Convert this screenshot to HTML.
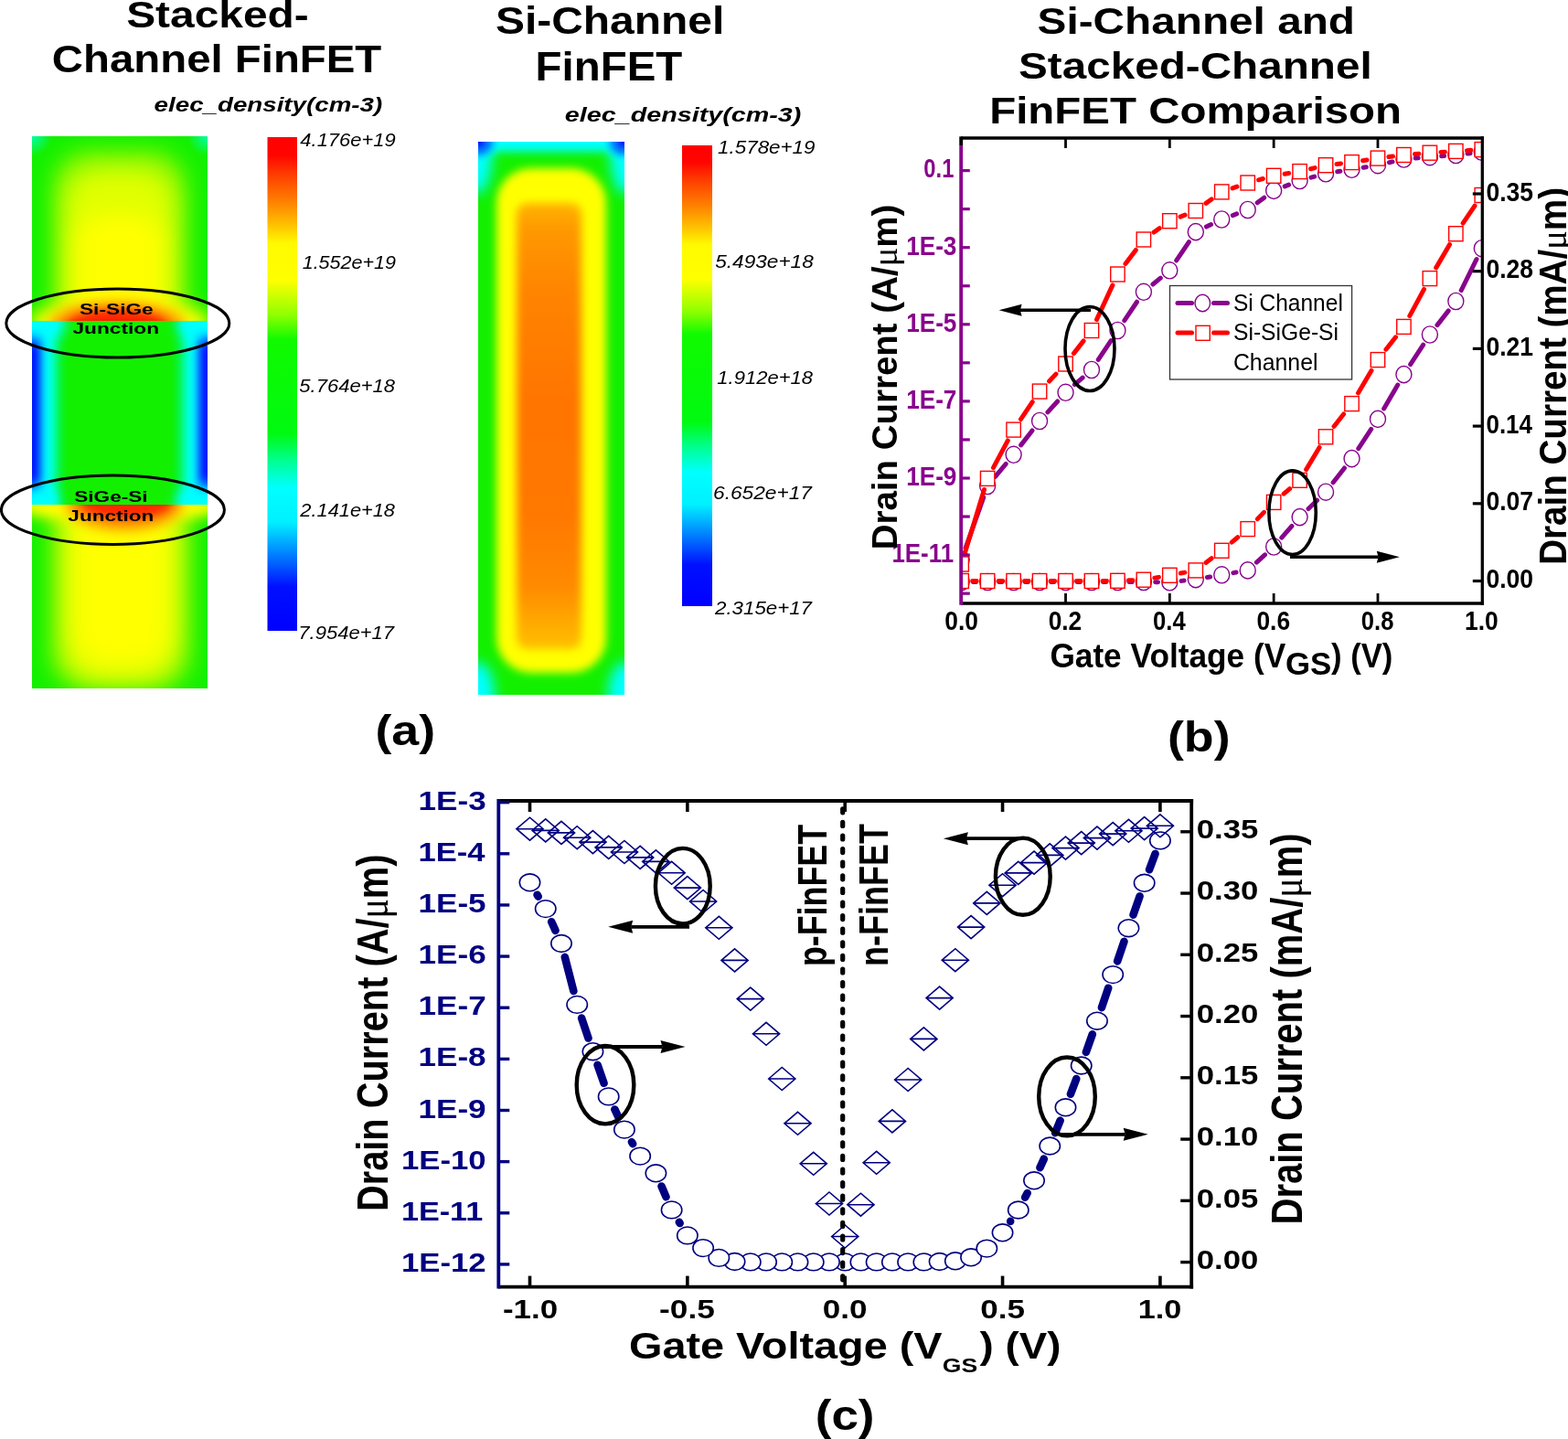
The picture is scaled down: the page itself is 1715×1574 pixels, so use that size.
<!DOCTYPE html><html><head><meta charset="utf-8"><title>FinFET figure</title><style>html,body{margin:0;padding:0;background:#fff;}svg{display:block;}</style></head><body>
<svg width="1715" height="1574" viewBox="0 0 1715 1574">
<rect x="0" y="0" width="1715" height="1574" fill="#fff"/>
<defs>
<linearGradient id="cbar" x1="0" y1="0" x2="0" y2="1">
<stop offset="0" stop-color="#ff0000"/>
<stop offset="0.037" stop-color="#ff0500"/>
<stop offset="0.075" stop-color="#ff3c00"/>
<stop offset="0.13" stop-color="#ff8000"/>
<stop offset="0.18" stop-color="#ffc400"/>
<stop offset="0.215" stop-color="#fffa00"/>
<stop offset="0.29" stop-color="#ffff00"/>
<stop offset="0.36" stop-color="#90ff00"/>
<stop offset="0.41" stop-color="#10fa00"/>
<stop offset="0.6" stop-color="#00fa10"/>
<stop offset="0.655" stop-color="#00ff90"/>
<stop offset="0.71" stop-color="#00ffff"/>
<stop offset="0.78" stop-color="#00f0ff"/>
<stop offset="0.85" stop-color="#0078ff"/>
<stop offset="0.91" stop-color="#0010ff"/>
<stop offset="1" stop-color="#0000ff"/>
</linearGradient>
<filter id="b3" x="-50%" y="-50%" width="200%" height="200%"><feGaussianBlur stdDeviation="3"/></filter>
<filter id="b5" x="-50%" y="-50%" width="200%" height="200%"><feGaussianBlur stdDeviation="5"/></filter>
<filter id="b7" x="-50%" y="-50%" width="200%" height="200%"><feGaussianBlur stdDeviation="7"/></filter>
<filter id="b9" x="-50%" y="-50%" width="200%" height="200%"><feGaussianBlur stdDeviation="9"/></filter>
<filter id="b12" x="-50%" y="-50%" width="200%" height="200%"><feGaussianBlur stdDeviation="12"/></filter>
<filter id="b16" x="-50%" y="-50%" width="200%" height="200%"><feGaussianBlur stdDeviation="16"/></filter>
<filter id="b20" x="-50%" y="-50%" width="200%" height="200%"><feGaussianBlur stdDeviation="20"/></filter>
<clipPath id="cA"><rect x="35" y="149" width="192" height="202"/></clipPath>
<clipPath id="cB"><rect x="35" y="351" width="192" height="201"/></clipPath>
<clipPath id="cC"><rect x="35" y="552" width="192" height="201"/></clipPath>
<clipPath id="cM"><rect x="523" y="155" width="160" height="605"/></clipPath>
<radialGradient id="cornerCy" cx="0.5" cy="0.5" r="0.5">
<stop offset="0" stop-color="#00ffc0" stop-opacity="0.9"/>
<stop offset="1" stop-color="#00ffc0" stop-opacity="0"/></radialGradient>
<linearGradient id="edgeL" x1="0" y1="0" x2="1" y2="0">
<stop offset="0" stop-color="#0000ff"/>
<stop offset="0.28" stop-color="#0028ff"/>
<stop offset="0.46" stop-color="#00ffff"/>
<stop offset="0.62" stop-color="#00ffd0"/>
<stop offset="1" stop-color="#12f000" stop-opacity="0"/></linearGradient>
<linearGradient id="edgeR" x1="1" y1="0" x2="0" y2="0">
<stop offset="0" stop-color="#0000ff"/>
<stop offset="0.28" stop-color="#0028ff"/>
<stop offset="0.46" stop-color="#00ffff"/>
<stop offset="0.62" stop-color="#00ffd0"/>
<stop offset="1" stop-color="#12f000" stop-opacity="0"/></linearGradient>
<radialGradient id="blueTL" cx="0" cy="0" r="1">
<stop offset="0" stop-color="#0000ff"/>
<stop offset="0.5" stop-color="#0060ff" stop-opacity="0.7"/>
<stop offset="1" stop-color="#00ffff" stop-opacity="0"/></radialGradient>
<radialGradient id="blueTR" cx="1" cy="0" r="1">
<stop offset="0" stop-color="#0000ff"/>
<stop offset="0.5" stop-color="#0060ff" stop-opacity="0.7"/>
<stop offset="1" stop-color="#00ffff" stop-opacity="0"/></radialGradient>
<linearGradient id="orgV" x1="0" y1="0" x2="0" y2="1">
<stop offset="0" stop-color="#ffb400"/>
<stop offset="0.06" stop-color="#ff9800"/>
<stop offset="0.2" stop-color="#ff8400"/>
<stop offset="0.45" stop-color="#ff7400"/>
<stop offset="0.7" stop-color="#ff7800"/>
<stop offset="0.86" stop-color="#ff8a00"/>
<stop offset="1" stop-color="#ffc000"/></linearGradient>
</defs>
<g clip-path="url(#cA)">
<rect x="35" y="149" width="192" height="202" fill="#12f000"/>
<ellipse cx="35" cy="149" rx="22" ry="22" fill="url(#cornerCy)"/>
<ellipse cx="227" cy="149" rx="22" ry="22" fill="url(#cornerCy)"/>
<rect x="58" y="165" width="146" height="220" rx="40" ry="40" fill="#90f800" filter="url(#b12)"/>
<rect x="72" y="185" width="118" height="200" rx="38" ry="38" fill="#e0ff00" filter="url(#b12)"/>
<rect x="84" y="235" width="94" height="150" rx="30" ry="30" fill="#ffff00" filter="url(#b12)"/>
<ellipse cx="131" cy="352" rx="100" ry="24" fill="#ffff00" filter="url(#b9)"/>
<ellipse cx="128" cy="357" rx="74" ry="27" fill="#ff9000" filter="url(#b7)"/>
<ellipse cx="128" cy="357" rx="56" ry="18" fill="#ff2000" filter="url(#b5)"/>
</g>
<g clip-path="url(#cB)">
<rect x="35" y="351" width="192" height="201" fill="#12f000"/>
<rect x="29" y="340" width="46" height="225" fill="url(#edgeL)" filter="url(#b3)"/>
<rect x="186" y="340" width="47" height="225" fill="url(#edgeR)" filter="url(#b3)"/>
<ellipse cx="42" cy="354" rx="30" ry="18" fill="#00ffff" filter="url(#b7)"/>
<ellipse cx="220" cy="354" rx="26" ry="18" fill="#00ffff" filter="url(#b7)"/>
<ellipse cx="42" cy="550" rx="22" ry="20" fill="#00ffff" filter="url(#b7)"/>
<ellipse cx="220" cy="550" rx="28" ry="20" fill="#00ffff" filter="url(#b7)"/>
</g>
<g clip-path="url(#cC)">
<rect x="35" y="552" width="192" height="201" fill="#12f000"/>
<rect x="56" y="535" width="152" height="220" rx="40" ry="40" fill="#90f800" filter="url(#b12)"/>
<rect x="70" y="540" width="124" height="205" rx="40" ry="40" fill="#e0ff00" filter="url(#b12)"/>
<rect x="82" y="545" width="102" height="182" rx="34" ry="34" fill="#ffff00" filter="url(#b12)"/>
<ellipse cx="131" cy="553" rx="112" ry="20" fill="#ffff00" filter="url(#b7)"/>
<ellipse cx="136" cy="550" rx="64" ry="30" fill="#ff9000" filter="url(#b7)"/>
<ellipse cx="138" cy="550" rx="50" ry="17" fill="#ff2800" filter="url(#b5)"/>
</g>
<g clip-path="url(#cM)">
<rect x="523" y="155" width="160" height="605" fill="#12f000"/>
<rect x="510" y="140" width="186" height="26" fill="#00ffff" filter="url(#b5)"/>
<ellipse cx="523" cy="160" rx="16" ry="52" fill="#00ffff" filter="url(#b7)"/>
<ellipse cx="683" cy="160" rx="16" ry="52" fill="#00ffff" filter="url(#b7)"/>
<ellipse cx="523" cy="762" rx="18" ry="38" fill="#00ffff" filter="url(#b7)"/>
<ellipse cx="683" cy="762" rx="18" ry="38" fill="#00ffff" filter="url(#b7)"/>
<rect x="523" y="155" width="26" height="24" fill="url(#blueTL)"/>
<rect x="657" y="155" width="26" height="24" fill="url(#blueTR)"/>
<rect x="543" y="184" width="120" height="552" rx="38" ry="38" fill="#ffff00" filter="url(#b5)"/>
<rect x="565" y="222" width="71" height="488" rx="12" ry="12" fill="url(#orgV)" filter="url(#b5)"/>
</g>
<rect x="292.5" y="150" width="32.5" height="540" fill="url(#cbar)"/>
<rect x="746" y="159" width="33" height="504" fill="url(#cbar)"/>
<text x="138.15" y="30.30" id="t0" font-family="'Liberation Sans', Arial, sans-serif" font-size="41.50" font-weight="bold" font-style="normal" fill="#000" textLength="199.69" lengthAdjust="spacingAndGlyphs" >Stacked-</text>
<text x="56.79" y="79.30" id="t1" font-family="'Liberation Sans', Arial, sans-serif" font-size="42.30" font-weight="bold" font-style="normal" fill="#000" textLength="360.52" lengthAdjust="spacingAndGlyphs" >Channel FinFET</text>
<text x="541.95" y="37.30" id="t2" font-family="'Liberation Sans', Arial, sans-serif" font-size="42.20" font-weight="bold" font-style="normal" fill="#000" textLength="250.42" lengthAdjust="spacingAndGlyphs" >Si-Channel</text>
<text x="585.64" y="87.50" id="t3" font-family="'Liberation Sans', Arial, sans-serif" font-size="43.50" font-weight="bold" font-style="normal" fill="#000" textLength="160.57" lengthAdjust="spacingAndGlyphs" >FinFET</text>
<text x="168.60" y="122.40" id="t4" font-family="'Liberation Sans', Arial, sans-serif" font-size="22.50" font-weight="bold" font-style="italic" fill="#000" textLength="249.61" lengthAdjust="spacingAndGlyphs" >elec_density(cm-3)</text>
<text x="617.89" y="132.90" id="t5" font-family="'Liberation Sans', Arial, sans-serif" font-size="22.50" font-weight="bold" font-style="italic" fill="#000" textLength="258.41" lengthAdjust="spacingAndGlyphs" >elec_density(cm-3)</text>
<text x="328.39" y="159.60" id="t6" font-family="'Liberation Sans', Arial, sans-serif" font-size="20.00" font-weight="normal" font-style="italic" fill="#000" textLength="104.22" lengthAdjust="spacingAndGlyphs" >4.176e+19</text>
<text x="330.68" y="293.80" id="t7" font-family="'Liberation Sans', Arial, sans-serif" font-size="20.00" font-weight="normal" font-style="italic" fill="#000" textLength="102.34" lengthAdjust="spacingAndGlyphs" >1.552e+19</text>
<text x="327.38" y="429.40" id="t8" font-family="'Liberation Sans', Arial, sans-serif" font-size="20.00" font-weight="normal" font-style="italic" fill="#000" textLength="104.72" lengthAdjust="spacingAndGlyphs" >5.764e+18</text>
<text x="328.39" y="564.60" id="t9" font-family="'Liberation Sans', Arial, sans-serif" font-size="20.00" font-weight="normal" font-style="italic" fill="#000" textLength="103.61" lengthAdjust="spacingAndGlyphs" >2.141e+18</text>
<text x="326.36" y="699.30" id="t10" font-family="'Liberation Sans', Arial, sans-serif" font-size="20.00" font-weight="normal" font-style="italic" fill="#000" textLength="104.74" lengthAdjust="spacingAndGlyphs" >7.954e+17</text>
<text x="785.08" y="167.70" id="t11" font-family="'Liberation Sans', Arial, sans-serif" font-size="20.00" font-weight="normal" font-style="italic" fill="#000" textLength="106.44" lengthAdjust="spacingAndGlyphs" >1.578e+19</text>
<text x="782.28" y="293.00" id="t12" font-family="'Liberation Sans', Arial, sans-serif" font-size="20.00" font-weight="normal" font-style="italic" fill="#000" textLength="107.52" lengthAdjust="spacingAndGlyphs" >5.493e+18</text>
<text x="784.39" y="420.20" id="t13" font-family="'Liberation Sans', Arial, sans-serif" font-size="20.00" font-weight="normal" font-style="italic" fill="#000" textLength="104.61" lengthAdjust="spacingAndGlyphs" >1.912e+18</text>
<text x="780.09" y="546.30" id="t14" font-family="'Liberation Sans', Arial, sans-serif" font-size="20.00" font-weight="normal" font-style="italic" fill="#000" textLength="107.91" lengthAdjust="spacingAndGlyphs" >6.652e+17</text>
<text x="782.00" y="672.40" id="t15" font-family="'Liberation Sans', Arial, sans-serif" font-size="20.00" font-weight="normal" font-style="italic" fill="#000" textLength="106.01" lengthAdjust="spacingAndGlyphs" >2.315e+17</text>
<ellipse cx="128.80" cy="353.50" rx="122.00" ry="37.50" stroke="#000" stroke-width="3" fill="none" />
<ellipse cx="123.40" cy="557.70" rx="122.00" ry="37.70" stroke="#000" stroke-width="3" fill="none" />
<text x="86.97" y="343.90" id="t16" font-family="'Liberation Sans', Arial, sans-serif" font-size="16.20" font-weight="bold" font-style="normal" fill="#000" textLength="80.78" lengthAdjust="spacingAndGlyphs" >Si-SiGe</text>
<text x="79.48" y="364.90" id="t17" font-family="'Liberation Sans', Arial, sans-serif" font-size="16.20" font-weight="bold" font-style="normal" fill="#000" textLength="94.54" lengthAdjust="spacingAndGlyphs" >Junction</text>
<text x="81.16" y="548.50" id="t18" font-family="'Liberation Sans', Arial, sans-serif" font-size="16.20" font-weight="bold" font-style="normal" fill="#000" textLength="80.48" lengthAdjust="spacingAndGlyphs" >SiGe-Si</text>
<text x="74.39" y="570.00" id="t19" font-family="'Liberation Sans', Arial, sans-serif" font-size="16.20" font-weight="bold" font-style="normal" fill="#000" textLength="93.85" lengthAdjust="spacingAndGlyphs" >Junction</text>
<text x="410.43" y="814.50" id="t20" font-family="'Liberation Sans', Arial, sans-serif" font-size="47.00" font-weight="bold" font-style="normal" fill="#000" textLength="65.69" lengthAdjust="spacingAndGlyphs" >(a)</text>
<text x="1276.99" y="821.60" id="t21" font-family="'Liberation Sans', Arial, sans-serif" font-size="47.00" font-weight="bold" font-style="normal" fill="#000" textLength="68.56" lengthAdjust="spacingAndGlyphs" >(b)</text>
<text x="891.73" y="1563.50" id="t22" font-family="'Liberation Sans', Arial, sans-serif" font-size="47.00" font-weight="bold" font-style="normal" fill="#000" textLength="64.82" lengthAdjust="spacingAndGlyphs" >(c)</text>
<text x="1134.57" y="36.90" id="t23" font-family="'Liberation Sans', Arial, sans-serif" font-size="40.50" font-weight="bold" font-style="normal" fill="#000" textLength="347.47" lengthAdjust="spacingAndGlyphs" >Si-Channel and</text>
<text x="1113.97" y="86.00" id="t24" font-family="'Liberation Sans', Arial, sans-serif" font-size="41.50" font-weight="bold" font-style="normal" fill="#000" textLength="386.78" lengthAdjust="spacingAndGlyphs" >Stacked-Channel</text>
<text x="1082.16" y="134.70" id="t25" font-family="'Liberation Sans', Arial, sans-serif" font-size="41.00" font-weight="bold" font-style="normal" fill="#000" textLength="450.88" lengthAdjust="spacingAndGlyphs" >FinFET Comparison</text>
<clipPath id="clipB"><rect x="1051" y="151" width="570" height="509"/></clipPath>
<g clip-path="url(#clipB)">
<path d="M1056.14,599.43L1075.71,544.07M1088.56,521.40L1100.21,507.40M1116.66,486.89L1129.01,470.91M1145.90,450.81L1156.68,438.99M1175.35,420.73L1184.14,413.07M1201.26,393.49L1215.14,372.51M1229.81,350.56L1243.51,330.24M1260.93,311.00L1269.29,304.10M1286.72,284.86L1300.42,264.54M1319.44,248.04L1324.61,245.56M1348.32,235.55L1352.63,233.95M1375.15,221.76L1382.72,216.14M1405.18,203.80L1409.60,202.10M1434.01,194.15L1437.68,193.15M1462.73,187.80L1465.87,187.30M1491.17,183.26L1494.33,182.74M1519.47,177.76L1522.95,176.94M1548.20,172.97L1551.13,172.73M1576.66,170.71L1579.58,170.49M1605.07,168.07L1608.07,167.73" fill="none" stroke="#88048c" stroke-width="5.0" stroke-linecap="round"/>
<ellipse cx="1051.70" cy="612.00" rx="8.5" ry="9.1" fill="#fff" stroke="#88048c" stroke-width="1.4"/>
<ellipse cx="1080.15" cy="531.50" rx="8.5" ry="9.1" fill="#fff" stroke="#88048c" stroke-width="1.4"/>
<ellipse cx="1108.61" cy="497.30" rx="8.5" ry="9.1" fill="#fff" stroke="#88048c" stroke-width="1.4"/>
<ellipse cx="1137.07" cy="460.50" rx="8.5" ry="9.1" fill="#fff" stroke="#88048c" stroke-width="1.4"/>
<ellipse cx="1165.52" cy="429.30" rx="8.5" ry="9.1" fill="#fff" stroke="#88048c" stroke-width="1.4"/>
<ellipse cx="1193.98" cy="404.50" rx="8.5" ry="9.1" fill="#fff" stroke="#88048c" stroke-width="1.4"/>
<ellipse cx="1222.43" cy="361.50" rx="8.5" ry="9.1" fill="#fff" stroke="#88048c" stroke-width="1.4"/>
<ellipse cx="1250.88" cy="319.30" rx="8.5" ry="9.1" fill="#fff" stroke="#88048c" stroke-width="1.4"/>
<ellipse cx="1279.34" cy="295.80" rx="8.5" ry="9.1" fill="#fff" stroke="#88048c" stroke-width="1.4"/>
<ellipse cx="1307.80" cy="253.60" rx="8.5" ry="9.1" fill="#fff" stroke="#88048c" stroke-width="1.4"/>
<ellipse cx="1336.25" cy="240.00" rx="8.5" ry="9.1" fill="#fff" stroke="#88048c" stroke-width="1.4"/>
<ellipse cx="1364.71" cy="229.50" rx="8.5" ry="9.1" fill="#fff" stroke="#88048c" stroke-width="1.4"/>
<ellipse cx="1393.16" cy="208.40" rx="8.5" ry="9.1" fill="#fff" stroke="#88048c" stroke-width="1.4"/>
<ellipse cx="1421.62" cy="197.50" rx="8.5" ry="9.1" fill="#fff" stroke="#88048c" stroke-width="1.4"/>
<ellipse cx="1450.07" cy="189.80" rx="8.5" ry="9.1" fill="#fff" stroke="#88048c" stroke-width="1.4"/>
<ellipse cx="1478.53" cy="185.30" rx="8.5" ry="9.1" fill="#fff" stroke="#88048c" stroke-width="1.4"/>
<ellipse cx="1506.98" cy="180.70" rx="8.5" ry="9.1" fill="#fff" stroke="#88048c" stroke-width="1.4"/>
<ellipse cx="1535.43" cy="174.00" rx="8.5" ry="9.1" fill="#fff" stroke="#88048c" stroke-width="1.4"/>
<ellipse cx="1563.89" cy="171.70" rx="8.5" ry="9.1" fill="#fff" stroke="#88048c" stroke-width="1.4"/>
<ellipse cx="1592.35" cy="169.50" rx="8.5" ry="9.1" fill="#fff" stroke="#88048c" stroke-width="1.4"/>
<ellipse cx="1620.80" cy="166.30" rx="8.5" ry="9.1" fill="#fff" stroke="#88048c" stroke-width="1.4"/>
<path d="M1064.50,636.50L1067.36,636.50M1092.95,636.50L1095.81,636.50M1121.41,636.50L1124.27,636.50M1149.87,636.50L1152.72,636.50M1178.32,636.50L1181.18,636.50M1206.78,636.50L1209.63,636.50M1235.23,636.50L1238.09,636.50M1263.68,636.63L1266.54,636.67M1292.07,635.37L1295.07,635.03M1320.43,631.47L1323.61,630.93M1348.88,626.63L1352.08,626.07M1374.36,615.11L1383.50,606.79M1401.82,588.14L1412.95,575.46M1431.03,556.53L1440.65,547.27M1458.15,527.81L1470.45,511.99M1485.79,490.57L1499.72,469.43M1513.65,446.97L1528.77,421.03M1542.65,398.54L1556.67,377.06M1571.98,355.62L1584.25,339.88M1598.21,317.59L1614.94,283.61" fill="none" stroke="#88048c" stroke-width="5.0" stroke-linecap="round"/>
<ellipse cx="1051.70" cy="636.50" rx="8.5" ry="9.1" fill="#fff" stroke="#88048c" stroke-width="1.4"/>
<ellipse cx="1080.15" cy="636.50" rx="8.5" ry="9.1" fill="#fff" stroke="#88048c" stroke-width="1.4"/>
<ellipse cx="1108.61" cy="636.50" rx="8.5" ry="9.1" fill="#fff" stroke="#88048c" stroke-width="1.4"/>
<ellipse cx="1137.07" cy="636.50" rx="8.5" ry="9.1" fill="#fff" stroke="#88048c" stroke-width="1.4"/>
<ellipse cx="1165.52" cy="636.50" rx="8.5" ry="9.1" fill="#fff" stroke="#88048c" stroke-width="1.4"/>
<ellipse cx="1193.98" cy="636.50" rx="8.5" ry="9.1" fill="#fff" stroke="#88048c" stroke-width="1.4"/>
<ellipse cx="1222.43" cy="636.50" rx="8.5" ry="9.1" fill="#fff" stroke="#88048c" stroke-width="1.4"/>
<ellipse cx="1250.88" cy="636.50" rx="8.5" ry="9.1" fill="#fff" stroke="#88048c" stroke-width="1.4"/>
<ellipse cx="1279.34" cy="636.80" rx="8.5" ry="9.1" fill="#fff" stroke="#88048c" stroke-width="1.4"/>
<ellipse cx="1307.80" cy="633.60" rx="8.5" ry="9.1" fill="#fff" stroke="#88048c" stroke-width="1.4"/>
<ellipse cx="1336.25" cy="628.80" rx="8.5" ry="9.1" fill="#fff" stroke="#88048c" stroke-width="1.4"/>
<ellipse cx="1364.71" cy="623.90" rx="8.5" ry="9.1" fill="#fff" stroke="#88048c" stroke-width="1.4"/>
<ellipse cx="1393.16" cy="598.00" rx="8.5" ry="9.1" fill="#fff" stroke="#88048c" stroke-width="1.4"/>
<ellipse cx="1421.62" cy="565.60" rx="8.5" ry="9.1" fill="#fff" stroke="#88048c" stroke-width="1.4"/>
<ellipse cx="1450.07" cy="538.20" rx="8.5" ry="9.1" fill="#fff" stroke="#88048c" stroke-width="1.4"/>
<ellipse cx="1478.53" cy="501.60" rx="8.5" ry="9.1" fill="#fff" stroke="#88048c" stroke-width="1.4"/>
<ellipse cx="1506.98" cy="458.40" rx="8.5" ry="9.1" fill="#fff" stroke="#88048c" stroke-width="1.4"/>
<ellipse cx="1535.43" cy="409.60" rx="8.5" ry="9.1" fill="#fff" stroke="#88048c" stroke-width="1.4"/>
<ellipse cx="1563.89" cy="366.00" rx="8.5" ry="9.1" fill="#fff" stroke="#88048c" stroke-width="1.4"/>
<ellipse cx="1592.35" cy="329.50" rx="8.5" ry="9.1" fill="#fff" stroke="#88048c" stroke-width="1.4"/>
<ellipse cx="1620.80" cy="271.70" rx="8.5" ry="9.1" fill="#fff" stroke="#88048c" stroke-width="1.4"/>
<path d="M1055.38,604.89L1076.47,535.51M1086.45,511.61L1102.31,481.89M1116.44,458.54L1129.23,439.66M1147.58,416.98L1155.00,409.12M1174.40,386.61L1185.09,372.89M1199.48,349.60L1216.92,311.90M1231.00,288.56L1242.32,273.44M1262.09,254.01L1268.14,249.69M1291.04,237.09L1296.09,235.11M1318.98,222.40L1325.07,218.00M1348.01,205.81L1352.94,204.09M1376.56,196.79L1381.31,195.51M1405.10,190.33L1409.67,189.57M1433.49,184.72L1438.19,183.58M1462.04,179.40L1466.55,178.90M1490.47,175.71L1495.03,174.99M1518.95,171.59L1523.47,171.01M1547.42,168.53L1551.90,168.17M1575.88,166.44L1580.35,166.16M1604.34,164.64L1608.81,164.36" fill="none" stroke="#ff0000" stroke-width="5.0" stroke-linecap="round"/>
<rect x="1044.00" y="609.00" width="15.4" height="16" fill="#fff" stroke="#ff0000" stroke-width="1.4"/>
<rect x="1072.45" y="515.40" width="15.4" height="16" fill="#fff" stroke="#ff0000" stroke-width="1.4"/>
<rect x="1100.91" y="462.10" width="15.4" height="16" fill="#fff" stroke="#ff0000" stroke-width="1.4"/>
<rect x="1129.37" y="420.10" width="15.4" height="16" fill="#fff" stroke="#ff0000" stroke-width="1.4"/>
<rect x="1157.82" y="390.00" width="15.4" height="16" fill="#fff" stroke="#ff0000" stroke-width="1.4"/>
<rect x="1186.28" y="353.50" width="15.4" height="16" fill="#fff" stroke="#ff0000" stroke-width="1.4"/>
<rect x="1214.73" y="292.00" width="15.4" height="16" fill="#fff" stroke="#ff0000" stroke-width="1.4"/>
<rect x="1243.18" y="254.00" width="15.4" height="16" fill="#fff" stroke="#ff0000" stroke-width="1.4"/>
<rect x="1271.64" y="233.70" width="15.4" height="16" fill="#fff" stroke="#ff0000" stroke-width="1.4"/>
<rect x="1300.10" y="222.50" width="15.4" height="16" fill="#fff" stroke="#ff0000" stroke-width="1.4"/>
<rect x="1328.55" y="201.90" width="15.4" height="16" fill="#fff" stroke="#ff0000" stroke-width="1.4"/>
<rect x="1357.01" y="192.00" width="15.4" height="16" fill="#fff" stroke="#ff0000" stroke-width="1.4"/>
<rect x="1385.46" y="184.30" width="15.4" height="16" fill="#fff" stroke="#ff0000" stroke-width="1.4"/>
<rect x="1413.91" y="179.60" width="15.4" height="16" fill="#fff" stroke="#ff0000" stroke-width="1.4"/>
<rect x="1442.37" y="172.70" width="15.4" height="16" fill="#fff" stroke="#ff0000" stroke-width="1.4"/>
<rect x="1470.83" y="169.60" width="15.4" height="16" fill="#fff" stroke="#ff0000" stroke-width="1.4"/>
<rect x="1499.28" y="165.10" width="15.4" height="16" fill="#fff" stroke="#ff0000" stroke-width="1.4"/>
<rect x="1527.73" y="161.50" width="15.4" height="16" fill="#fff" stroke="#ff0000" stroke-width="1.4"/>
<rect x="1556.19" y="159.20" width="15.4" height="16" fill="#fff" stroke="#ff0000" stroke-width="1.4"/>
<rect x="1584.64" y="157.40" width="15.4" height="16" fill="#fff" stroke="#ff0000" stroke-width="1.4"/>
<rect x="1613.10" y="155.60" width="15.4" height="16" fill="#fff" stroke="#ff0000" stroke-width="1.4"/>
<path d="M1063.70,635.50L1068.15,635.50M1092.15,635.50L1096.61,635.50M1120.61,635.50L1125.07,635.50M1149.07,635.50L1153.52,635.50M1177.52,635.50L1181.98,635.50M1205.97,635.42L1210.43,635.38M1234.43,634.84L1238.89,634.66M1262.82,632.14L1267.40,631.36M1291.26,627.04L1295.87,626.16M1318.92,615.46L1325.13,610.74M1347.25,593.13L1353.70,587.77M1375.41,567.62L1382.46,560.38M1404.14,540.10L1410.63,534.60M1428.62,513.61L1443.07,489.49M1459.02,466.42L1469.58,452.98M1485.46,429.90L1500.04,405.30M1515.93,382.22L1526.49,368.78M1541.79,345.61L1557.54,316.39M1570.71,292.88L1585.53,267.42M1600.14,244.13L1613.00,225.07" fill="none" stroke="#ff0000" stroke-width="5.0" stroke-linecap="round"/>
<rect x="1044.00" y="627.50" width="15.4" height="16" fill="#fff" stroke="#ff0000" stroke-width="1.4"/>
<rect x="1072.45" y="627.50" width="15.4" height="16" fill="#fff" stroke="#ff0000" stroke-width="1.4"/>
<rect x="1100.91" y="627.50" width="15.4" height="16" fill="#fff" stroke="#ff0000" stroke-width="1.4"/>
<rect x="1129.37" y="627.50" width="15.4" height="16" fill="#fff" stroke="#ff0000" stroke-width="1.4"/>
<rect x="1157.82" y="627.50" width="15.4" height="16" fill="#fff" stroke="#ff0000" stroke-width="1.4"/>
<rect x="1186.28" y="627.50" width="15.4" height="16" fill="#fff" stroke="#ff0000" stroke-width="1.4"/>
<rect x="1214.73" y="627.30" width="15.4" height="16" fill="#fff" stroke="#ff0000" stroke-width="1.4"/>
<rect x="1243.18" y="626.20" width="15.4" height="16" fill="#fff" stroke="#ff0000" stroke-width="1.4"/>
<rect x="1271.64" y="621.30" width="15.4" height="16" fill="#fff" stroke="#ff0000" stroke-width="1.4"/>
<rect x="1300.10" y="615.90" width="15.4" height="16" fill="#fff" stroke="#ff0000" stroke-width="1.4"/>
<rect x="1328.55" y="594.30" width="15.4" height="16" fill="#fff" stroke="#ff0000" stroke-width="1.4"/>
<rect x="1357.01" y="570.60" width="15.4" height="16" fill="#fff" stroke="#ff0000" stroke-width="1.4"/>
<rect x="1385.46" y="541.40" width="15.4" height="16" fill="#fff" stroke="#ff0000" stroke-width="1.4"/>
<rect x="1413.91" y="517.30" width="15.4" height="16" fill="#fff" stroke="#ff0000" stroke-width="1.4"/>
<rect x="1442.37" y="469.80" width="15.4" height="16" fill="#fff" stroke="#ff0000" stroke-width="1.4"/>
<rect x="1470.83" y="433.60" width="15.4" height="16" fill="#fff" stroke="#ff0000" stroke-width="1.4"/>
<rect x="1499.28" y="385.60" width="15.4" height="16" fill="#fff" stroke="#ff0000" stroke-width="1.4"/>
<rect x="1527.73" y="349.40" width="15.4" height="16" fill="#fff" stroke="#ff0000" stroke-width="1.4"/>
<rect x="1556.19" y="296.60" width="15.4" height="16" fill="#fff" stroke="#ff0000" stroke-width="1.4"/>
<rect x="1584.64" y="247.70" width="15.4" height="16" fill="#fff" stroke="#ff0000" stroke-width="1.4"/>
<rect x="1613.10" y="205.50" width="15.4" height="16" fill="#fff" stroke="#ff0000" stroke-width="1.4"/>
</g>
<line x1="1051.20" y1="151.00" x2="1622.95" y2="151.00" stroke="#000" stroke-width="3.3" stroke-linecap="butt" />
<line x1="1051.20" y1="660.00" x2="1622.95" y2="660.00" stroke="#000" stroke-width="3.3" stroke-linecap="butt" />
<line x1="1621.30" y1="149.35" x2="1621.30" y2="661.65" stroke="#000" stroke-width="3.3" stroke-linecap="butt" />
<line x1="1051.20" y1="159.00" x2="1051.20" y2="661.65" stroke="#88048c" stroke-width="3.9" stroke-linecap="butt" />
<line x1="1051.20" y1="149.35" x2="1051.20" y2="159.00" stroke="#000" stroke-width="3.9" stroke-linecap="butt" />
<line x1="1165.52" y1="151.00" x2="1165.52" y2="162.00" stroke="#000" stroke-width="2.8" stroke-linecap="butt" />
<line x1="1165.52" y1="660.00" x2="1165.52" y2="649.00" stroke="#000" stroke-width="2.8" stroke-linecap="butt" />
<line x1="1279.34" y1="151.00" x2="1279.34" y2="162.00" stroke="#000" stroke-width="2.8" stroke-linecap="butt" />
<line x1="1279.34" y1="660.00" x2="1279.34" y2="649.00" stroke="#000" stroke-width="2.8" stroke-linecap="butt" />
<line x1="1393.16" y1="151.00" x2="1393.16" y2="162.00" stroke="#000" stroke-width="2.8" stroke-linecap="butt" />
<line x1="1393.16" y1="660.00" x2="1393.16" y2="649.00" stroke="#000" stroke-width="2.8" stroke-linecap="butt" />
<line x1="1506.98" y1="151.00" x2="1506.98" y2="162.00" stroke="#000" stroke-width="2.8" stroke-linecap="butt" />
<line x1="1506.98" y1="660.00" x2="1506.98" y2="649.00" stroke="#000" stroke-width="2.8" stroke-linecap="butt" />
<line x1="1051.20" y1="186.60" x2="1060.80" y2="186.60" stroke="#88048c" stroke-width="3.2" stroke-linecap="butt" />
<line x1="1051.20" y1="228.65" x2="1060.80" y2="228.65" stroke="#88048c" stroke-width="3.2" stroke-linecap="butt" />
<line x1="1051.20" y1="270.70" x2="1060.80" y2="270.70" stroke="#88048c" stroke-width="3.2" stroke-linecap="butt" />
<line x1="1051.20" y1="312.75" x2="1060.80" y2="312.75" stroke="#88048c" stroke-width="3.2" stroke-linecap="butt" />
<line x1="1051.20" y1="354.80" x2="1060.80" y2="354.80" stroke="#88048c" stroke-width="3.2" stroke-linecap="butt" />
<line x1="1051.20" y1="396.85" x2="1060.80" y2="396.85" stroke="#88048c" stroke-width="3.2" stroke-linecap="butt" />
<line x1="1051.20" y1="438.90" x2="1060.80" y2="438.90" stroke="#88048c" stroke-width="3.2" stroke-linecap="butt" />
<line x1="1051.20" y1="480.95" x2="1060.80" y2="480.95" stroke="#88048c" stroke-width="3.2" stroke-linecap="butt" />
<line x1="1051.20" y1="523.00" x2="1060.80" y2="523.00" stroke="#88048c" stroke-width="3.2" stroke-linecap="butt" />
<line x1="1051.20" y1="565.05" x2="1060.80" y2="565.05" stroke="#88048c" stroke-width="3.2" stroke-linecap="butt" />
<line x1="1051.20" y1="607.10" x2="1060.80" y2="607.10" stroke="#88048c" stroke-width="3.2" stroke-linecap="butt" />
<line x1="1051.20" y1="649.15" x2="1060.80" y2="649.15" stroke="#88048c" stroke-width="3.2" stroke-linecap="butt" />
<line x1="1621.30" y1="635.50" x2="1610.80" y2="635.50" stroke="#000" stroke-width="3.2" stroke-linecap="butt" />
<line x1="1621.30" y1="550.80" x2="1610.80" y2="550.80" stroke="#000" stroke-width="3.2" stroke-linecap="butt" />
<line x1="1621.30" y1="466.10" x2="1610.80" y2="466.10" stroke="#000" stroke-width="3.2" stroke-linecap="butt" />
<line x1="1621.30" y1="381.40" x2="1610.80" y2="381.40" stroke="#000" stroke-width="3.2" stroke-linecap="butt" />
<line x1="1621.30" y1="296.70" x2="1610.80" y2="296.70" stroke="#000" stroke-width="3.2" stroke-linecap="butt" />
<line x1="1621.30" y1="212.00" x2="1610.80" y2="212.00" stroke="#000" stroke-width="3.2" stroke-linecap="butt" />
<text x="1010.35" y="194.40" id="t26" font-family="'Liberation Sans', Arial, sans-serif" font-size="29.50" font-weight="bold" font-style="normal" fill="#88048c" textLength="33.01" lengthAdjust="spacingAndGlyphs" >0.1</text>
<text x="991.13" y="278.50" id="t27" font-family="'Liberation Sans', Arial, sans-serif" font-size="29.50" font-weight="bold" font-style="normal" fill="#88048c" textLength="55.32" lengthAdjust="spacingAndGlyphs" >1E-3</text>
<text x="991.13" y="362.60" id="t28" font-family="'Liberation Sans', Arial, sans-serif" font-size="29.50" font-weight="bold" font-style="normal" fill="#88048c" textLength="55.32" lengthAdjust="spacingAndGlyphs" >1E-5</text>
<text x="991.13" y="446.70" id="t29" font-family="'Liberation Sans', Arial, sans-serif" font-size="29.50" font-weight="bold" font-style="normal" fill="#88048c" textLength="55.32" lengthAdjust="spacingAndGlyphs" >1E-7</text>
<text x="991.13" y="530.80" id="t30" font-family="'Liberation Sans', Arial, sans-serif" font-size="29.50" font-weight="bold" font-style="normal" fill="#88048c" textLength="55.32" lengthAdjust="spacingAndGlyphs" >1E-9</text>
<text x="975.44" y="614.90" id="t31" font-family="'Liberation Sans', Arial, sans-serif" font-size="29.50" font-weight="bold" font-style="normal" fill="#88048c" textLength="67.70" lengthAdjust="spacingAndGlyphs" >1E-11</text>
<text x="1625.46" y="643.00" id="t32" font-family="'Liberation Sans', Arial, sans-serif" font-size="29.50" font-weight="bold" font-style="normal" fill="#000" textLength="51.58" lengthAdjust="spacingAndGlyphs" >0.00</text>
<text x="1625.46" y="558.30" id="t33" font-family="'Liberation Sans', Arial, sans-serif" font-size="29.50" font-weight="bold" font-style="normal" fill="#000" textLength="51.58" lengthAdjust="spacingAndGlyphs" >0.07</text>
<text x="1625.47" y="473.60" id="t34" font-family="'Liberation Sans', Arial, sans-serif" font-size="29.50" font-weight="bold" font-style="normal" fill="#000" textLength="50.53" lengthAdjust="spacingAndGlyphs" >0.14</text>
<text x="1625.46" y="388.90" id="t35" font-family="'Liberation Sans', Arial, sans-serif" font-size="29.50" font-weight="bold" font-style="normal" fill="#000" textLength="51.58" lengthAdjust="spacingAndGlyphs" >0.21</text>
<text x="1625.46" y="304.20" id="t36" font-family="'Liberation Sans', Arial, sans-serif" font-size="29.50" font-weight="bold" font-style="normal" fill="#000" textLength="51.58" lengthAdjust="spacingAndGlyphs" >0.28</text>
<text x="1625.46" y="219.50" id="t37" font-family="'Liberation Sans', Arial, sans-serif" font-size="29.50" font-weight="bold" font-style="normal" fill="#000" textLength="51.58" lengthAdjust="spacingAndGlyphs" >0.35</text>
<text x="1033.30" y="688.60" id="t38" font-family="'Liberation Sans', Arial, sans-serif" font-size="29.50" font-weight="bold" font-style="normal" fill="#000" textLength="36.62" lengthAdjust="spacingAndGlyphs" >0.0</text>
<text x="1146.67" y="688.60" id="t39" font-family="'Liberation Sans', Arial, sans-serif" font-size="29.50" font-weight="bold" font-style="normal" fill="#000" textLength="36.62" lengthAdjust="spacingAndGlyphs" >0.2</text>
<text x="1261.05" y="688.60" id="t40" font-family="'Liberation Sans', Arial, sans-serif" font-size="29.50" font-weight="bold" font-style="normal" fill="#000" textLength="35.60" lengthAdjust="spacingAndGlyphs" >0.4</text>
<text x="1374.45" y="688.60" id="t41" font-family="'Liberation Sans', Arial, sans-serif" font-size="29.50" font-weight="bold" font-style="normal" fill="#000" textLength="36.62" lengthAdjust="spacingAndGlyphs" >0.6</text>
<text x="1488.83" y="688.60" id="t42" font-family="'Liberation Sans', Arial, sans-serif" font-size="29.50" font-weight="bold" font-style="normal" fill="#000" textLength="35.58" lengthAdjust="spacingAndGlyphs" >0.8</text>
<text x="1602.12" y="688.60" id="t43" font-family="'Liberation Sans', Arial, sans-serif" font-size="29.50" font-weight="bold" font-style="normal" fill="#000" textLength="36.69" lengthAdjust="spacingAndGlyphs" >1.0</text>
<text x="1148.39" y="729.70" id="t44" font-family="'Liberation Sans', Arial, sans-serif" font-size="36.40" font-weight="bold" font-style="normal" fill="#000" textLength="257.82" lengthAdjust="spacingAndGlyphs" >Gate Voltage (V</text>
<text x="1405.94" y="738.20" id="t45" font-family="'Liberation Sans', Arial, sans-serif" font-size="35.20" font-weight="bold" font-style="normal" fill="#000" textLength="50.47" lengthAdjust="spacingAndGlyphs" >GS</text>
<text x="1456.00" y="729.70" id="t46" font-family="'Liberation Sans', Arial, sans-serif" font-size="36.40" font-weight="bold" font-style="normal" fill="#000" textLength="67.35" lengthAdjust="spacingAndGlyphs" >) (V)</text>
<text x="0" y="0" id="t47" font-family="'Liberation Sans', Arial, sans-serif" font-size="38.50" font-weight="bold" font-style="normal" fill="#000" textLength="377.65" lengthAdjust="spacingAndGlyphs" transform="translate(981.30,601.33) rotate(-90)" >Drain Current (A/<tspan font-family="'Liberation Serif', 'Times New Roman', serif" font-weight="normal">&#956;</tspan>m)</text>
<text x="0" y="0" id="t48" font-family="'Liberation Sans', Arial, sans-serif" font-size="42.90" font-weight="bold" font-style="normal" fill="#000" textLength="412.85" lengthAdjust="spacingAndGlyphs" transform="translate(1712.80,617.83) rotate(-90)" >Drain Current (mA/<tspan font-family="'Liberation Serif', 'Times New Roman', serif" font-weight="normal">&#956;</tspan>m)</text>
<ellipse cx="1192.00" cy="381.50" rx="27.00" ry="46.00" stroke="#000" stroke-width="3.6" fill="none" />
<line x1="1193.00" y1="339.30" x2="1115.60" y2="339.30" stroke="#000" stroke-width="3.4" stroke-linecap="butt" />
<path d="M1092.60,339.30 L1117.60,332.80 L1115.85,339.30 L1117.60,345.80 Z" fill="#000"/>
<ellipse cx="1413.60" cy="560.70" rx="25.70" ry="45.80" stroke="#000" stroke-width="3.6" fill="none" />
<line x1="1411.00" y1="609.20" x2="1507.80" y2="609.20" stroke="#000" stroke-width="3.4" stroke-linecap="butt" />
<path d="M1530.80,609.20 L1505.80,602.70 L1507.55,609.20 L1505.80,615.70 Z" fill="#000"/>
<rect x="1279.5" y="312.5" width="199.1" height="102.5" fill="#fff" stroke="#333" stroke-width="1.3"/>
<line x1="1288.00" y1="331.50" x2="1303.50" y2="331.50" stroke="#88048c" stroke-width="5" stroke-linecap="round" />
<line x1="1327.50" y1="331.50" x2="1342.50" y2="331.50" stroke="#88048c" stroke-width="5" stroke-linecap="round" />
<ellipse cx="1315.3" cy="331.5" rx="8.3" ry="9.3" fill="#fff" stroke="#88048c" stroke-width="1.4"/>
<line x1="1288.00" y1="364.00" x2="1303.50" y2="364.00" stroke="#ff0000" stroke-width="5" stroke-linecap="round" />
<line x1="1327.50" y1="364.00" x2="1342.50" y2="364.00" stroke="#ff0000" stroke-width="5" stroke-linecap="round" />
<rect x="1308" y="356.3" width="15.3" height="16" fill="#fff" stroke="#ff0000" stroke-width="1.4"/>
<text x="1348.95" y="340.00" id="t49" font-family="'Liberation Sans', Arial, sans-serif" font-size="26.00" font-weight="normal" font-style="normal" fill="#000" textLength="119.89" lengthAdjust="spacingAndGlyphs" >Si Channel</text>
<text x="1348.96" y="372.40" id="t50" font-family="'Liberation Sans', Arial, sans-serif" font-size="26.00" font-weight="normal" font-style="normal" fill="#000" textLength="115.08" lengthAdjust="spacingAndGlyphs" >Si-SiGe-Si</text>
<text x="1348.94" y="405.20" id="t51" font-family="'Liberation Sans', Arial, sans-serif" font-size="26.00" font-weight="normal" font-style="normal" fill="#000" textLength="92.53" lengthAdjust="spacingAndGlyphs" >Channel</text>
<path d="M587.56,978.76L588.68,980.64M603.17,1008.25L607.53,1017.85M617.81,1046.90L627.37,1084.00M636.12,1113.54L643.52,1135.56M653.55,1164.79L660.57,1184.81M672.37,1213.46L676.22,1221.54M690.92,1249.08L692.13,1251.12M723.51,1297.56L728.48,1309.14M742.85,1336.78L743.62,1338.02M1105.17,1335.90l0.01,0M1121.16,1309.72L1123.65,1305.08M1137.47,1277.15L1141.80,1267.65M1154.12,1239.15L1159.63,1225.65M1170.94,1196.81L1177.27,1179.99M1187.87,1150.92L1194.81,1131.28M1204.94,1102.08L1212.21,1080.72M1222.15,1051.47L1229.48,1029.83M1239.52,1000.61L1246.57,980.39M1257.05,951.30L1263.51,933.90" fill="none" stroke="#000080" stroke-width="8.6" stroke-linecap="round"/>
<ellipse cx="924.20" cy="1380.40" rx="11.2" ry="9.4" fill="#fff" stroke="#000080" stroke-width="1.6"/>
<ellipse cx="906.97" cy="1380.40" rx="11.2" ry="9.4" fill="#fff" stroke="#000080" stroke-width="1.6"/>
<ellipse cx="889.73" cy="1380.40" rx="11.2" ry="9.4" fill="#fff" stroke="#000080" stroke-width="1.6"/>
<ellipse cx="872.50" cy="1380.40" rx="11.2" ry="9.4" fill="#fff" stroke="#000080" stroke-width="1.6"/>
<ellipse cx="855.26" cy="1380.40" rx="11.2" ry="9.4" fill="#fff" stroke="#000080" stroke-width="1.6"/>
<ellipse cx="838.03" cy="1380.40" rx="11.2" ry="9.4" fill="#fff" stroke="#000080" stroke-width="1.6"/>
<ellipse cx="820.79" cy="1380.40" rx="11.2" ry="9.4" fill="#fff" stroke="#000080" stroke-width="1.6"/>
<ellipse cx="803.56" cy="1380.00" rx="11.2" ry="9.4" fill="#fff" stroke="#000080" stroke-width="1.6"/>
<ellipse cx="786.32" cy="1375.90" rx="11.2" ry="9.4" fill="#fff" stroke="#000080" stroke-width="1.6"/>
<ellipse cx="769.09" cy="1365.10" rx="11.2" ry="9.4" fill="#fff" stroke="#000080" stroke-width="1.6"/>
<ellipse cx="751.85" cy="1351.40" rx="11.2" ry="9.4" fill="#fff" stroke="#000080" stroke-width="1.6"/>
<ellipse cx="734.62" cy="1323.40" rx="11.2" ry="9.4" fill="#fff" stroke="#000080" stroke-width="1.6"/>
<ellipse cx="717.38" cy="1283.30" rx="11.2" ry="9.4" fill="#fff" stroke="#000080" stroke-width="1.6"/>
<ellipse cx="700.14" cy="1264.60" rx="11.2" ry="9.4" fill="#fff" stroke="#000080" stroke-width="1.6"/>
<ellipse cx="682.91" cy="1235.60" rx="11.2" ry="9.4" fill="#fff" stroke="#000080" stroke-width="1.6"/>
<ellipse cx="665.68" cy="1199.40" rx="11.2" ry="9.4" fill="#fff" stroke="#000080" stroke-width="1.6"/>
<ellipse cx="648.44" cy="1150.20" rx="11.2" ry="9.4" fill="#fff" stroke="#000080" stroke-width="1.6"/>
<ellipse cx="631.21" cy="1098.90" rx="11.2" ry="9.4" fill="#fff" stroke="#000080" stroke-width="1.6"/>
<ellipse cx="613.97" cy="1032.00" rx="11.2" ry="9.4" fill="#fff" stroke="#000080" stroke-width="1.6"/>
<ellipse cx="596.74" cy="994.10" rx="11.2" ry="9.4" fill="#fff" stroke="#000080" stroke-width="1.6"/>
<ellipse cx="579.50" cy="965.30" rx="11.2" ry="9.4" fill="#fff" stroke="#000080" stroke-width="1.6"/>
<ellipse cx="941.44" cy="1380.40" rx="11.2" ry="9.4" fill="#fff" stroke="#000080" stroke-width="1.6"/>
<ellipse cx="958.67" cy="1380.40" rx="11.2" ry="9.4" fill="#fff" stroke="#000080" stroke-width="1.6"/>
<ellipse cx="975.91" cy="1380.40" rx="11.2" ry="9.4" fill="#fff" stroke="#000080" stroke-width="1.6"/>
<ellipse cx="993.14" cy="1380.40" rx="11.2" ry="9.4" fill="#fff" stroke="#000080" stroke-width="1.6"/>
<ellipse cx="1010.38" cy="1380.40" rx="11.2" ry="9.4" fill="#fff" stroke="#000080" stroke-width="1.6"/>
<ellipse cx="1027.61" cy="1380.00" rx="11.2" ry="9.4" fill="#fff" stroke="#000080" stroke-width="1.6"/>
<ellipse cx="1044.85" cy="1379.30" rx="11.2" ry="9.4" fill="#fff" stroke="#000080" stroke-width="1.6"/>
<ellipse cx="1062.08" cy="1375.30" rx="11.2" ry="9.4" fill="#fff" stroke="#000080" stroke-width="1.6"/>
<ellipse cx="1079.32" cy="1365.60" rx="11.2" ry="9.4" fill="#fff" stroke="#000080" stroke-width="1.6"/>
<ellipse cx="1096.55" cy="1348.30" rx="11.2" ry="9.4" fill="#fff" stroke="#000080" stroke-width="1.6"/>
<ellipse cx="1113.79" cy="1323.50" rx="11.2" ry="9.4" fill="#fff" stroke="#000080" stroke-width="1.6"/>
<ellipse cx="1131.02" cy="1291.30" rx="11.2" ry="9.4" fill="#fff" stroke="#000080" stroke-width="1.6"/>
<ellipse cx="1148.26" cy="1253.50" rx="11.2" ry="9.4" fill="#fff" stroke="#000080" stroke-width="1.6"/>
<ellipse cx="1165.49" cy="1211.30" rx="11.2" ry="9.4" fill="#fff" stroke="#000080" stroke-width="1.6"/>
<ellipse cx="1182.72" cy="1165.50" rx="11.2" ry="9.4" fill="#fff" stroke="#000080" stroke-width="1.6"/>
<ellipse cx="1199.96" cy="1116.70" rx="11.2" ry="9.4" fill="#fff" stroke="#000080" stroke-width="1.6"/>
<ellipse cx="1217.20" cy="1066.10" rx="11.2" ry="9.4" fill="#fff" stroke="#000080" stroke-width="1.6"/>
<ellipse cx="1234.43" cy="1015.20" rx="11.2" ry="9.4" fill="#fff" stroke="#000080" stroke-width="1.6"/>
<ellipse cx="1251.66" cy="965.80" rx="11.2" ry="9.4" fill="#fff" stroke="#000080" stroke-width="1.6"/>
<ellipse cx="1268.90" cy="919.40" rx="11.2" ry="9.4" fill="#fff" stroke="#000080" stroke-width="1.6"/>
<path d="M564.90,906.70 L579.50,894.20 L594.10,906.70 L579.50,919.20 Z M564.90,906.70 H594.10" fill="none" stroke="#000080" stroke-width="1.6"/>
<path d="M582.14,908.40 L596.74,895.90 L611.34,908.40 L596.74,920.90 Z M582.14,908.40 H611.34" fill="none" stroke="#000080" stroke-width="1.6"/>
<path d="M599.37,910.90 L613.97,898.40 L628.57,910.90 L613.97,923.40 Z M599.37,910.90 H628.57" fill="none" stroke="#000080" stroke-width="1.6"/>
<path d="M616.61,916.20 L631.21,903.70 L645.81,916.20 L631.21,928.70 Z M616.61,916.20 H645.81" fill="none" stroke="#000080" stroke-width="1.6"/>
<path d="M633.84,921.10 L648.44,908.60 L663.04,921.10 L648.44,933.60 Z M633.84,921.10 H663.04" fill="none" stroke="#000080" stroke-width="1.6"/>
<path d="M651.08,926.90 L665.68,914.40 L680.28,926.90 L665.68,939.40 Z M651.08,926.90 H680.28" fill="none" stroke="#000080" stroke-width="1.6"/>
<path d="M668.31,932.00 L682.91,919.50 L697.51,932.00 L682.91,944.50 Z M668.31,932.00 H697.51" fill="none" stroke="#000080" stroke-width="1.6"/>
<path d="M685.54,937.90 L700.14,925.40 L714.75,937.90 L700.14,950.40 Z M685.54,937.90 H714.75" fill="none" stroke="#000080" stroke-width="1.6"/>
<path d="M702.78,942.40 L717.38,929.90 L731.98,942.40 L717.38,954.90 Z M702.78,942.40 H731.98" fill="none" stroke="#000080" stroke-width="1.6"/>
<path d="M720.01,954.80 L734.62,942.30 L749.22,954.80 L734.62,967.30 Z M720.01,954.80 H749.22" fill="none" stroke="#000080" stroke-width="1.6"/>
<path d="M737.25,971.10 L751.85,958.60 L766.45,971.10 L751.85,983.60 Z M737.25,971.10 H766.45" fill="none" stroke="#000080" stroke-width="1.6"/>
<path d="M754.49,986.00 L769.09,973.50 L783.69,986.00 L769.09,998.50 Z M754.49,986.00 H783.69" fill="none" stroke="#000080" stroke-width="1.6"/>
<path d="M771.72,1014.80 L786.32,1002.30 L800.92,1014.80 L786.32,1027.30 Z M771.72,1014.80 H800.92" fill="none" stroke="#000080" stroke-width="1.6"/>
<path d="M788.96,1050.40 L803.56,1037.90 L818.16,1050.40 L803.56,1062.90 Z M788.96,1050.40 H818.16" fill="none" stroke="#000080" stroke-width="1.6"/>
<path d="M806.19,1092.60 L820.79,1080.10 L835.39,1092.60 L820.79,1105.10 Z M806.19,1092.60 H835.39" fill="none" stroke="#000080" stroke-width="1.6"/>
<path d="M823.43,1130.80 L838.03,1118.30 L852.63,1130.80 L838.03,1143.30 Z M823.43,1130.80 H852.63" fill="none" stroke="#000080" stroke-width="1.6"/>
<path d="M840.66,1180.00 L855.26,1167.50 L869.86,1180.00 L855.26,1192.50 Z M840.66,1180.00 H869.86" fill="none" stroke="#000080" stroke-width="1.6"/>
<path d="M857.89,1228.80 L872.50,1216.30 L887.10,1228.80 L872.50,1241.30 Z M857.89,1228.80 H887.10" fill="none" stroke="#000080" stroke-width="1.6"/>
<path d="M875.13,1272.80 L889.73,1260.30 L904.33,1272.80 L889.73,1285.30 Z M875.13,1272.80 H904.33" fill="none" stroke="#000080" stroke-width="1.6"/>
<path d="M892.37,1316.50 L906.97,1304.00 L921.57,1316.50 L906.97,1329.00 Z M892.37,1316.50 H921.57" fill="none" stroke="#000080" stroke-width="1.6"/>
<path d="M909.60,1352.50 L924.20,1340.00 L938.80,1352.50 L924.20,1365.00 Z M909.60,1352.50 H938.80" fill="none" stroke="#000080" stroke-width="1.6"/>
<path d="M926.84,1317.70 L941.44,1305.20 L956.04,1317.70 L941.44,1330.20 Z M926.84,1317.70 H956.04" fill="none" stroke="#000080" stroke-width="1.6"/>
<path d="M944.07,1271.80 L958.67,1259.30 L973.27,1271.80 L958.67,1284.30 Z M944.07,1271.80 H973.27" fill="none" stroke="#000080" stroke-width="1.6"/>
<path d="M961.31,1226.40 L975.91,1213.90 L990.51,1226.40 L975.91,1238.90 Z M961.31,1226.40 H990.51" fill="none" stroke="#000080" stroke-width="1.6"/>
<path d="M978.54,1181.00 L993.14,1168.50 L1007.74,1181.00 L993.14,1193.50 Z M978.54,1181.00 H1007.74" fill="none" stroke="#000080" stroke-width="1.6"/>
<path d="M995.77,1136.40 L1010.38,1123.90 L1024.97,1136.40 L1010.38,1148.90 Z M995.77,1136.40 H1024.97" fill="none" stroke="#000080" stroke-width="1.6"/>
<path d="M1013.01,1091.60 L1027.61,1079.10 L1042.21,1091.60 L1027.61,1104.10 Z M1013.01,1091.60 H1042.21" fill="none" stroke="#000080" stroke-width="1.6"/>
<path d="M1030.25,1050.20 L1044.85,1037.70 L1059.44,1050.20 L1044.85,1062.70 Z M1030.25,1050.20 H1059.44" fill="none" stroke="#000080" stroke-width="1.6"/>
<path d="M1047.48,1014.10 L1062.08,1001.60 L1076.68,1014.10 L1062.08,1026.60 Z M1047.48,1014.10 H1076.68" fill="none" stroke="#000080" stroke-width="1.6"/>
<path d="M1064.72,987.90 L1079.32,975.40 L1093.91,987.90 L1079.32,1000.40 Z M1064.72,987.90 H1093.91" fill="none" stroke="#000080" stroke-width="1.6"/>
<path d="M1081.95,968.20 L1096.55,955.70 L1111.15,968.20 L1096.55,980.70 Z M1081.95,968.20 H1111.15" fill="none" stroke="#000080" stroke-width="1.6"/>
<path d="M1099.19,954.90 L1113.79,942.40 L1128.38,954.90 L1113.79,967.40 Z M1099.19,954.90 H1128.38" fill="none" stroke="#000080" stroke-width="1.6"/>
<path d="M1116.42,943.60 L1131.02,931.10 L1145.62,943.60 L1131.02,956.10 Z M1116.42,943.60 H1145.62" fill="none" stroke="#000080" stroke-width="1.6"/>
<path d="M1133.66,935.40 L1148.26,922.90 L1162.86,935.40 L1148.26,947.90 Z M1133.66,935.40 H1162.86" fill="none" stroke="#000080" stroke-width="1.6"/>
<path d="M1150.89,927.60 L1165.49,915.10 L1180.09,927.60 L1165.49,940.10 Z M1150.89,927.60 H1180.09" fill="none" stroke="#000080" stroke-width="1.6"/>
<path d="M1168.12,922.10 L1182.72,909.60 L1197.32,922.10 L1182.72,934.60 Z M1168.12,922.10 H1197.32" fill="none" stroke="#000080" stroke-width="1.6"/>
<path d="M1185.36,916.60 L1199.96,904.10 L1214.56,916.60 L1199.96,929.10 Z M1185.36,916.60 H1214.56" fill="none" stroke="#000080" stroke-width="1.6"/>
<path d="M1202.60,912.10 L1217.20,899.60 L1231.80,912.10 L1217.20,924.60 Z M1202.60,912.10 H1231.80" fill="none" stroke="#000080" stroke-width="1.6"/>
<path d="M1219.83,908.80 L1234.43,896.30 L1249.03,908.80 L1234.43,921.30 Z M1219.83,908.80 H1249.03" fill="none" stroke="#000080" stroke-width="1.6"/>
<path d="M1237.07,906.10 L1251.66,893.60 L1266.26,906.10 L1251.66,918.60 Z M1237.07,906.10 H1266.26" fill="none" stroke="#000080" stroke-width="1.6"/>
<path d="M1254.30,903.30 L1268.90,890.80 L1283.50,903.30 L1268.90,915.80 Z M1254.30,903.30 H1283.50" fill="none" stroke="#000080" stroke-width="1.6"/>
<line x1="921.70" y1="884.80" x2="921.70" y2="1404.00" stroke="#000" stroke-width="5.2" stroke-linecap="round" stroke-dasharray="4.0 10.6"/>
<line x1="545.30" y1="876.00" x2="1305.10" y2="876.00" stroke="#000" stroke-width="3.8" stroke-linecap="butt" />
<line x1="545.30" y1="1407.60" x2="1305.10" y2="1407.60" stroke="#000" stroke-width="3.8" stroke-linecap="butt" />
<line x1="1303.20" y1="874.10" x2="1303.20" y2="1409.50" stroke="#000" stroke-width="3.8" stroke-linecap="butt" />
<line x1="545.30" y1="874.10" x2="545.30" y2="1409.50" stroke="#000080" stroke-width="3.8" stroke-linecap="butt" />
<line x1="579.50" y1="876.00" x2="579.50" y2="888.00" stroke="#000" stroke-width="3.6" stroke-linecap="butt" />
<line x1="579.50" y1="1407.60" x2="579.50" y2="1395.60" stroke="#000" stroke-width="3.6" stroke-linecap="butt" />
<line x1="751.85" y1="876.00" x2="751.85" y2="888.00" stroke="#000" stroke-width="3.6" stroke-linecap="butt" />
<line x1="751.85" y1="1407.60" x2="751.85" y2="1395.60" stroke="#000" stroke-width="3.6" stroke-linecap="butt" />
<line x1="924.20" y1="876.00" x2="924.20" y2="888.00" stroke="#000" stroke-width="3.6" stroke-linecap="butt" />
<line x1="924.20" y1="1407.60" x2="924.20" y2="1395.60" stroke="#000" stroke-width="3.6" stroke-linecap="butt" />
<line x1="1096.55" y1="876.00" x2="1096.55" y2="888.00" stroke="#000" stroke-width="3.6" stroke-linecap="butt" />
<line x1="1096.55" y1="1407.60" x2="1096.55" y2="1395.60" stroke="#000" stroke-width="3.6" stroke-linecap="butt" />
<line x1="1268.90" y1="876.00" x2="1268.90" y2="888.00" stroke="#000" stroke-width="3.6" stroke-linecap="butt" />
<line x1="1268.90" y1="1407.60" x2="1268.90" y2="1395.60" stroke="#000" stroke-width="3.6" stroke-linecap="butt" />
<line x1="545.30" y1="877.66" x2="557.30" y2="877.66" stroke="#000080" stroke-width="3.4" stroke-linecap="butt" />
<line x1="545.30" y1="933.80" x2="557.30" y2="933.80" stroke="#000080" stroke-width="3.4" stroke-linecap="butt" />
<line x1="545.30" y1="989.94" x2="557.30" y2="989.94" stroke="#000080" stroke-width="3.4" stroke-linecap="butt" />
<line x1="545.30" y1="1046.08" x2="557.30" y2="1046.08" stroke="#000080" stroke-width="3.4" stroke-linecap="butt" />
<line x1="545.30" y1="1102.22" x2="557.30" y2="1102.22" stroke="#000080" stroke-width="3.4" stroke-linecap="butt" />
<line x1="545.30" y1="1158.36" x2="557.30" y2="1158.36" stroke="#000080" stroke-width="3.4" stroke-linecap="butt" />
<line x1="545.30" y1="1214.50" x2="557.30" y2="1214.50" stroke="#000080" stroke-width="3.4" stroke-linecap="butt" />
<line x1="545.30" y1="1270.64" x2="557.30" y2="1270.64" stroke="#000080" stroke-width="3.4" stroke-linecap="butt" />
<line x1="545.30" y1="1326.78" x2="557.30" y2="1326.78" stroke="#000080" stroke-width="3.4" stroke-linecap="butt" />
<line x1="545.30" y1="1382.92" x2="557.30" y2="1382.92" stroke="#000080" stroke-width="3.4" stroke-linecap="butt" />
<line x1="1303.20" y1="1380.60" x2="1291.20" y2="1380.60" stroke="#000" stroke-width="3.4" stroke-linecap="butt" />
<line x1="1303.20" y1="1313.34" x2="1291.20" y2="1313.34" stroke="#000" stroke-width="3.4" stroke-linecap="butt" />
<line x1="1303.20" y1="1246.08" x2="1291.20" y2="1246.08" stroke="#000" stroke-width="3.4" stroke-linecap="butt" />
<line x1="1303.20" y1="1178.82" x2="1291.20" y2="1178.82" stroke="#000" stroke-width="3.4" stroke-linecap="butt" />
<line x1="1303.20" y1="1111.56" x2="1291.20" y2="1111.56" stroke="#000" stroke-width="3.4" stroke-linecap="butt" />
<line x1="1303.20" y1="1044.30" x2="1291.20" y2="1044.30" stroke="#000" stroke-width="3.4" stroke-linecap="butt" />
<line x1="1303.20" y1="977.04" x2="1291.20" y2="977.04" stroke="#000" stroke-width="3.4" stroke-linecap="butt" />
<line x1="1303.20" y1="909.78" x2="1291.20" y2="909.78" stroke="#000" stroke-width="3.4" stroke-linecap="butt" />
<text x="457.47" y="885.66" id="t52" font-family="'Liberation Sans', Arial, sans-serif" font-size="30.00" font-weight="bold" font-style="normal" fill="#000080" textLength="74.21" lengthAdjust="spacingAndGlyphs" >1E-3</text>
<text x="457.53" y="941.80" id="t53" font-family="'Liberation Sans', Arial, sans-serif" font-size="30.00" font-weight="bold" font-style="normal" fill="#000080" textLength="73.06" lengthAdjust="spacingAndGlyphs" >1E-4</text>
<text x="457.49" y="997.94" id="t54" font-family="'Liberation Sans', Arial, sans-serif" font-size="30.00" font-weight="bold" font-style="normal" fill="#000080" textLength="74.15" lengthAdjust="spacingAndGlyphs" >1E-5</text>
<text x="457.47" y="1054.08" id="t55" font-family="'Liberation Sans', Arial, sans-serif" font-size="30.00" font-weight="bold" font-style="normal" fill="#000080" textLength="74.21" lengthAdjust="spacingAndGlyphs" >1E-6</text>
<text x="457.47" y="1110.22" id="t56" font-family="'Liberation Sans', Arial, sans-serif" font-size="30.00" font-weight="bold" font-style="normal" fill="#000080" textLength="74.21" lengthAdjust="spacingAndGlyphs" >1E-7</text>
<text x="457.49" y="1166.36" id="t57" font-family="'Liberation Sans', Arial, sans-serif" font-size="30.00" font-weight="bold" font-style="normal" fill="#000080" textLength="74.13" lengthAdjust="spacingAndGlyphs" >1E-8</text>
<text x="457.48" y="1222.50" id="t58" font-family="'Liberation Sans', Arial, sans-serif" font-size="30.00" font-weight="bold" font-style="normal" fill="#000080" textLength="74.19" lengthAdjust="spacingAndGlyphs" >1E-9</text>
<text x="438.93" y="1278.64" id="t59" font-family="'Liberation Sans', Arial, sans-serif" font-size="30.00" font-weight="bold" font-style="normal" fill="#000080" textLength="92.73" lengthAdjust="spacingAndGlyphs" >1E-10</text>
<text x="438.93" y="1334.78" id="t60" font-family="'Liberation Sans', Arial, sans-serif" font-size="30.00" font-weight="bold" font-style="normal" fill="#000080" textLength="89.32" lengthAdjust="spacingAndGlyphs" >1E-11</text>
<text x="438.93" y="1390.92" id="t61" font-family="'Liberation Sans', Arial, sans-serif" font-size="30.00" font-weight="bold" font-style="normal" fill="#000080" textLength="92.73" lengthAdjust="spacingAndGlyphs" >1E-12</text>
<text x="1308.75" y="1387.90" id="t62" font-family="'Liberation Sans', Arial, sans-serif" font-size="30.00" font-weight="bold" font-style="normal" fill="#000" textLength="67.49" lengthAdjust="spacingAndGlyphs" >0.00</text>
<text x="1308.76" y="1320.64" id="t63" font-family="'Liberation Sans', Arial, sans-serif" font-size="30.00" font-weight="bold" font-style="normal" fill="#000" textLength="67.49" lengthAdjust="spacingAndGlyphs" >0.05</text>
<text x="1308.75" y="1253.38" id="t64" font-family="'Liberation Sans', Arial, sans-serif" font-size="30.00" font-weight="bold" font-style="normal" fill="#000" textLength="67.49" lengthAdjust="spacingAndGlyphs" >0.10</text>
<text x="1308.76" y="1186.12" id="t65" font-family="'Liberation Sans', Arial, sans-serif" font-size="30.00" font-weight="bold" font-style="normal" fill="#000" textLength="67.49" lengthAdjust="spacingAndGlyphs" >0.15</text>
<text x="1308.75" y="1118.86" id="t66" font-family="'Liberation Sans', Arial, sans-serif" font-size="30.00" font-weight="bold" font-style="normal" fill="#000" textLength="67.49" lengthAdjust="spacingAndGlyphs" >0.20</text>
<text x="1308.76" y="1051.60" id="t67" font-family="'Liberation Sans', Arial, sans-serif" font-size="30.00" font-weight="bold" font-style="normal" fill="#000" textLength="67.49" lengthAdjust="spacingAndGlyphs" >0.25</text>
<text x="1308.75" y="984.34" id="t68" font-family="'Liberation Sans', Arial, sans-serif" font-size="30.00" font-weight="bold" font-style="normal" fill="#000" textLength="67.49" lengthAdjust="spacingAndGlyphs" >0.30</text>
<text x="1308.76" y="917.08" id="t69" font-family="'Liberation Sans', Arial, sans-serif" font-size="30.00" font-weight="bold" font-style="normal" fill="#000" textLength="67.49" lengthAdjust="spacingAndGlyphs" >0.35</text>
<text x="549.95" y="1442.00" id="t70" font-family="'Liberation Sans', Arial, sans-serif" font-size="30.00" font-weight="bold" font-style="normal" fill="#000" textLength="60.12" lengthAdjust="spacingAndGlyphs" >-1.0</text>
<text x="721.14" y="1442.00" id="t71" font-family="'Liberation Sans', Arial, sans-serif" font-size="30.00" font-weight="bold" font-style="normal" fill="#000" textLength="60.72" lengthAdjust="spacingAndGlyphs" >-0.5</text>
<text x="899.74" y="1442.00" id="t72" font-family="'Liberation Sans', Arial, sans-serif" font-size="30.00" font-weight="bold" font-style="normal" fill="#000" textLength="48.73" lengthAdjust="spacingAndGlyphs" >0.0</text>
<text x="1072.31" y="1442.00" id="t73" font-family="'Liberation Sans', Arial, sans-serif" font-size="30.00" font-weight="bold" font-style="normal" fill="#000" textLength="48.73" lengthAdjust="spacingAndGlyphs" >0.5</text>
<text x="1244.68" y="1442.00" id="t74" font-family="'Liberation Sans', Arial, sans-serif" font-size="30.00" font-weight="bold" font-style="normal" fill="#000" textLength="47.60" lengthAdjust="spacingAndGlyphs" >1.0</text>
<text x="687.98" y="1485.80" id="t75" font-family="'Liberation Sans', Arial, sans-serif" font-size="40.00" font-weight="bold" font-style="normal" fill="#000" textLength="342.62" lengthAdjust="spacingAndGlyphs" >Gate Voltage (V</text>
<text x="1030.89" y="1500.60" id="t76" font-family="'Liberation Sans', Arial, sans-serif" font-size="22.50" font-weight="bold" font-style="normal" fill="#000" textLength="38.37" lengthAdjust="spacingAndGlyphs" >GS</text>
<text x="1071.59" y="1485.80" id="t77" font-family="'Liberation Sans', Arial, sans-serif" font-size="40.00" font-weight="bold" font-style="normal" fill="#000" textLength="88.88" lengthAdjust="spacingAndGlyphs" >) (V)</text>
<text x="0" y="0" id="t78" font-family="'Liberation Sans', Arial, sans-serif" font-size="47.80" font-weight="bold" font-style="normal" fill="#000" textLength="390.47" lengthAdjust="spacingAndGlyphs" transform="translate(423.70,1325.04) rotate(-90)" >Drain Current (A/<tspan font-family="'Liberation Serif', 'Times New Roman', serif" font-weight="normal">&#956;</tspan>m)</text>
<text x="0" y="0" id="t79" font-family="'Liberation Sans', Arial, sans-serif" font-size="49.00" font-weight="bold" font-style="normal" fill="#000" textLength="428.05" lengthAdjust="spacingAndGlyphs" transform="translate(1424.40,1339.43) rotate(-90)" >Drain Current (mA/<tspan font-family="'Liberation Serif', 'Times New Roman', serif" font-weight="normal">&#956;</tspan>m)</text>
<text x="0" y="0" id="t80" font-family="'Liberation Sans', Arial, sans-serif" font-size="43.50" font-weight="bold" font-style="normal" fill="#000" textLength="155.03" lengthAdjust="spacingAndGlyphs" transform="translate(904.00,1057.03) rotate(-90)" >p-FinFET</text>
<text x="0" y="0" id="t81" font-family="'Liberation Sans', Arial, sans-serif" font-size="44.00" font-weight="bold" font-style="normal" fill="#000" textLength="156.03" lengthAdjust="spacingAndGlyphs" transform="translate(971.40,1057.03) rotate(-90)" >n-FinFET</text>
<ellipse cx="746.80" cy="969.20" rx="29.90" ry="41.30" stroke="#000" stroke-width="4.4" fill="none" />
<line x1="754.00" y1="1013.80" x2="690.20" y2="1013.80" stroke="#000" stroke-width="3.8" stroke-linecap="butt" />
<path d="M665.20,1013.80 L692.20,1006.80 L690.31,1013.80 L692.20,1020.80 Z" fill="#000"/>
<ellipse cx="662.00" cy="1186.70" rx="31.30" ry="42.70" stroke="#000" stroke-width="4.4" fill="none" />
<line x1="659.00" y1="1145.00" x2="724.50" y2="1145.00" stroke="#000" stroke-width="3.8" stroke-linecap="butt" />
<path d="M749.50,1145.00 L722.50,1138.00 L724.39,1145.00 L722.50,1152.00 Z" fill="#000"/>
<ellipse cx="1118.80" cy="958.70" rx="29.90" ry="42.10" stroke="#000" stroke-width="4.4" fill="none" />
<line x1="1118.30" y1="917.20" x2="1056.90" y2="917.20" stroke="#000" stroke-width="3.8" stroke-linecap="butt" />
<path d="M1031.90,917.20 L1058.90,910.20 L1057.01,917.20 L1058.90,924.20 Z" fill="#000"/>
<ellipse cx="1167.00" cy="1199.40" rx="30.80" ry="42.90" stroke="#000" stroke-width="4.4" fill="none" />
<line x1="1160.40" y1="1240.80" x2="1230.70" y2="1240.80" stroke="#000" stroke-width="3.8" stroke-linecap="butt" />
<path d="M1255.70,1240.80 L1228.70,1233.80 L1230.59,1240.80 L1228.70,1247.80 Z" fill="#000"/>
</svg></body></html>
